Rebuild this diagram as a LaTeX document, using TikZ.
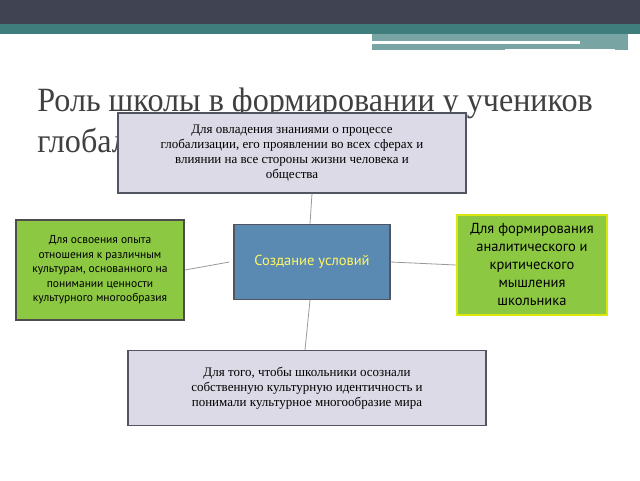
\documentclass[tikz,border=0pt]{standalone}
\usepackage{fontspec}
\setmainfont{Liberation Serif}
\newfontfamily\narrowsans{PT Sans}
\usetikzlibrary{calc}
\definecolor{topbar}{HTML}{404452}
\definecolor{tealbar}{HTML}{3E7D7C}
\definecolor{lavender}{HTML}{DCDAE6}
\definecolor{steel}{HTML}{5A8AB2}
\definecolor{leafgreen}{HTML}{8DC843}
\definecolor{edgegray}{HTML}{505560}
\tikzstyle{lilas} = [rectangle, draw=edgegray, line width=1.2pt, fill=lavender, inner sep=2pt, align=center, font=\fontsize{13}{15}\selectfont]
\tikzstyle{vert} = [rectangle, line width=1.5pt, fill=leafgreen, inner sep=2pt, align=center]
\tikzstyle{lien} = [draw=gray!80, line width=0.8pt]

\begin{document}
\begin{tikzpicture}[x=1pt,y=-1pt]
        \useasboundingbox (0,0) rectangle (640,480);

        %% band
        \fill[topbar] (0,0) rectangle (640,24);
        \fill[tealbar] (0,24) rectangle (640,34);
        \fill[tealbar!70] (372,34) rectangle (628,50);
        \fill[white] (372,41) rectangle (580,44);
        \fill[white] (505,49) rectangle (615,53);

        %% title
        \node (T1) [anchor=west, font=\fontsize{34}{40}\selectfont, text=black!75, xscale=0.945] at (34,103) {Роль школы в формировании у учеников};
        \node (T2) [anchor=west, font=\fontsize{34}{40}\selectfont, text=black!75, xscale=0.945] at (34,140) {глобального};

        %% boxes
        \node (E1) [lilas, minimum width=348, minimum height=80] at (292,153) {Для овладения знаниями о процессе\\глобализации, его проявлении во всех сферах и\\влиянии на все стороны жизни человека и\\общества};
        \node (E2) [rectangle, draw=edgegray, line width=1.2pt, fill=steel, minimum width=156, minimum height=75, text=yellow!60!white, font=\narrowsans\fontsize{14.5}{16}\selectfont] at (312,262) {Создание условий};
        \node (E3) [vert, draw=black!70, minimum width=168, minimum height=100, font=\narrowsans\fontsize{11.5}{14.5}\selectfont] at (100,270) {Для освоения опыта\\отношения к различным\\культурам, основанного на\\понимании ценности\\культурного многообразия};
        \node (E4) [vert, draw=yellow!85!green, minimum width=150, minimum height=100, font=\narrowsans\fontsize{14.5}{18}\selectfont] at (532,265) {Для формирования\\аналитического и\\критического\\мышления\\школьника};
        \node (E5) [lilas, minimum width=358, minimum height=75] at (307,388) {Для того, чтобы школьники осознали\\собственную культурную идентичность и\\понимали культурное многообразие мира};

        %% links
        \draw[lien] ($(E1.south)+(20,0)$) -- ($(E2.north)+(-2,0)$);
        \draw[lien] (E3.east) -- ($(E2.west)+(-4,0)$);
        \draw[lien] (E2.east) -- (E4.west);
        \draw[lien] ($(E2.south)+(-2,0)$) -- ($(E5.north)+(-2,0)$);

\end{tikzpicture}
\end{document}
